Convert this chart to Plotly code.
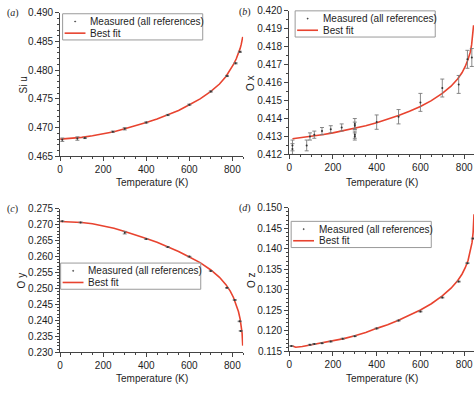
import plotly.graph_objects as go

# ---------------- data ----------------
# (a) Si u
a_T = [10, 80, 115, 245, 300, 400, 500, 600, 700, 775, 815, 835]
a_val = [0.4679, 0.4681, 0.4682, 0.4693, 0.4698, 0.4709, 0.4722, 0.4740, 0.4763, 0.4790, 0.4812, 0.4832]
a_err = [0.0003, 0.0003, 0.0001, 0.0001, 0.0002, 0.0001, 0.0001, 0.0001, 0.0001, 0.0001, 0.0001, 0.0001]
a_fit_T = [0, 50, 100, 150, 200, 250, 300, 350, 400, 450, 500, 550, 600, 650, 700, 740, 770, 790, 805, 818, 828, 836, 841, 845, 848]
a_fit = [0.4680, 0.4681, 0.4683, 0.4686, 0.4689, 0.4693, 0.4698, 0.4703, 0.4709, 0.4715, 0.4722, 0.4730, 0.4740, 0.4750,
         0.4763, 0.4776, 0.4789, 0.4800, 0.4810, 0.4820, 0.4829, 0.4838, 0.4845, 0.4852, 0.4858]

# (b) O x
b_T = [15, 15, 80, 95, 115, 150, 190, 240, 300, 300, 300, 300, 400, 500, 600, 700, 775, 815, 835]
b_val = [0.4125, 0.4123, 0.4125, 0.4130, 0.4131, 0.4133, 0.4134, 0.4135, 0.4137, 0.4136, 0.4131, 0.4130,
         0.4138, 0.4141, 0.4149, 0.4157, 0.4159, 0.4173, 0.4174]
b_err = [0.0003, 0.0003, 0.0003, 0.0002, 0.0002, 0.0002, 0.0002, 0.0002, 0.0003, 0.0002, 0.0002, 0.0002,
         0.0004, 0.0004, 0.0005, 0.0005, 0.0005, 0.0005, 0.0005]
b_fit_T = [15, 50, 100, 150, 200, 250, 300, 350, 400, 450, 500, 550, 600, 650, 700, 740, 770, 790, 805, 818, 828, 834, 838, 841, 843]
b_fit = [0.41287, 0.41292, 0.41300, 0.41310, 0.41320, 0.41332, 0.41345, 0.41360, 0.41377, 0.41395, 0.41417, 0.41440,
         0.41467, 0.41500, 0.41540, 0.41580, 0.41620, 0.41655, 0.41690, 0.41730, 0.41770, 0.41810, 0.41850, 0.41890, 0.41920]

# (c) O y
c_T = [10, 95, 300, 400, 500, 600, 700, 775, 811, 834, 839]
c_val = [0.2711, 0.2707, 0.2675, 0.2655, 0.2630, 0.2600, 0.2555, 0.2502, 0.2464, 0.2397, 0.2367]
c_err = [0.0001, 0.0001, 0.0004, 0.0001, 0.0001, 0.0001, 0.0001, 0.0001, 0.0001, 0.0001, 0.0001]
c_fit_T = [0, 50, 100, 150, 200, 250, 300, 350, 400, 450, 500, 550, 600, 650, 700, 740, 770, 790, 805, 818, 828, 836, 841, 845, 848]
c_fit = [0.2710, 0.2709, 0.2707, 0.2703, 0.2697, 0.2689, 0.2679, 0.2669, 0.2657, 0.2645, 0.2631, 0.2616, 0.2599,
         0.2581, 0.2558, 0.2535, 0.2512, 0.2492, 0.2472, 0.2450, 0.2428, 0.2404, 0.2383, 0.2360, 0.2321]

# (d) O z
d_T = [10, 95, 115, 150, 190, 245, 300, 400, 500, 600, 700, 775, 815, 840]
d_val = [0.1163, 0.1166, 0.1168, 0.1170, 0.1174, 0.1181, 0.1187, 0.1206, 0.1225, 0.1247, 0.1281, 0.1320, 0.1365, 0.1425]
d_err = [0.0001] * len(d_T)
d_fit_T = [15, 30, 60, 100, 150, 200, 250, 300, 350, 400, 450, 500, 550, 600, 650, 700, 740, 770, 790, 805, 818, 828, 836, 841, 845]
d_fit = [0.1163, 0.1160, 0.1162, 0.1166, 0.1170, 0.1175, 0.1181, 0.1188, 0.1196, 0.1206, 0.1215, 0.1226, 0.1238, 0.1251,
         0.1266, 0.1285, 0.1304, 0.1322, 0.1338, 0.1354, 0.1372, 0.1392, 0.1415, 0.1440, 0.1484]

panels = [
    ("(<i>a</i>)", "Si u", a_T, a_val, a_err, a_fit_T, a_fit, [0.465, 0.490], 0.005),
    ("(<i>b</i>)", "O x", b_T, b_val, b_err, b_fit_T, b_fit, [0.412, 0.420], 0.001),
    ("(<i>c</i>)", "O y", c_T, c_val, c_err, c_fit_T, c_fit, [0.230, 0.275], 0.005),
    ("(<i>d</i>)", "O z", d_T, d_val, d_err, d_fit_T, d_fit, [0.115, 0.150], 0.005),
]
x_title = "Temperature (K)"
legend_labels = ["Measured (all references)", "Best fit"]

# ---------------- layout geometry (pixels) ----------------
W, H = 474, 401
boxes = [
    (57.5, 241.7, 7, 155, [0, 850]),
    (288, 474, 5, 153, [0, 845]),
    (57.5, 241.7, 209, 357, [0, 850]),
    (288, 474, 208, 356, [0, 845]),
]
legend_boxes = [(60, 8), (294, 5), (58, 265), (290, 222)]
panel_label_pos = [(10, 7), (244, 6), (10, 209), (244, 208)]
ytitle_x = [21, 249, 19, 250]
xtitle_y = [182, 182, 384, 384]

FIT = "#e8432f"
AX = "#444444"
TXT = "#1e1e1e"
FONT = "Liberation Sans, Arial, sans-serif"


def px(x):
    return x / W


def py(y):
    return 1 - y / H


def note(text, x, y, xanchor="center", size=10, family=FONT, angle=0):
    return dict(text=text, x=px(x), y=py(y), xref="paper", yref="paper", showarrow=False,
                xanchor=xanchor, yanchor="middle", textangle=angle,
                font=dict(family=family, size=size, color=TXT))


fig = go.Figure()
shapes = []
annotations = []

for i, (lab, ytitle, T, v, e, fT, fv, yr, ydt) in enumerate(panels):
    sfx = "" if i == 0 else str(i + 1)
    xa, ya = "x" + sfx, "y" + sfx
    L, R, Tp, B, xr = boxes[i]

    fig.add_trace(go.Scatter(
        x=fT, y=fv, mode="lines", line=dict(color=FIT, width=1.6),
        xaxis=xa, yaxis=ya, showlegend=False, hoverinfo="skip"))
    fig.add_trace(go.Scatter(
        x=T, y=v, mode="markers",
        marker=dict(color="#333333", size=2),
        error_y=dict(type="data", array=e, visible=True, color="#7a7a7a", thickness=0.9, width=2),
        xaxis=xa, yaxis=ya, showlegend=False))

    axis_common = dict(
        showline=True, linecolor=AX, linewidth=1, ticks="outside", ticklen=4, tickwidth=1,
        tickcolor=AX, showgrid=False, zeroline=False, mirror=False,
        tickfont=dict(family=FONT, size=10, color=TXT),
    )
    fig.layout["xaxis" + sfx] = dict(
        axis_common, domain=[px(L), px(R)], range=xr, dtick=200, tick0=0,
        anchor=ya, minor=dict(ticks="outside", dtick=50, ticklen=2, tickcolor=AX))
    fig.layout["yaxis" + sfx] = dict(
        axis_common, domain=[py(B), py(Tp)], range=yr, dtick=ydt, tick0=yr[0],
        tickformat=".3f", anchor=xa,
        minor=dict(ticks="outside", dtick=ydt / 5 if ydt > 0.002 else ydt / 2, ticklen=2, tickcolor=AX))

    lx, ly = panel_label_pos[i]
    annotations.append(note(lab, lx, ly, family="Liberation Serif, serif", size=10))
    annotations.append(note(ytitle, ytitle_x[i], (Tp + B) / 2, angle=-90))
    annotations.append(note(x_title, (L + R) / 2, xtitle_y[i]))

    # legend box
    bx, by = legend_boxes[i]
    shapes.append(dict(type="rect", xref="paper", yref="paper", x0=px(bx), x1=px(bx + 141),
                       y0=py(by + 27), y1=py(by), line=dict(color="#9a9a9a", width=1), fillcolor="white"))
    shapes.append(dict(type="circle", xref="paper", yref="paper", x0=px(bx + 12), x1=px(bx + 13.2),
                       y0=py(by + 8.6), y1=py(by + 7.4), line=dict(color="#333", width=0.5), fillcolor="#333"))
    shapes.append(dict(type="line", xref="paper", yref="paper", x0=px(bx + 2), x1=px(bx + 23),
                       y0=py(by + 20), y1=py(by + 20), line=dict(color=FIT, width=1.6)))
    annotations.append(note(legend_labels[0], bx + 26, by + 8, xanchor="left"))
    annotations.append(note(legend_labels[1], bx + 26, by + 20, xanchor="left"))

fig.update_layout(
    width=W, height=H, margin=dict(l=0, r=0, t=0, b=0),
    paper_bgcolor="white", plot_bgcolor="white",
    shapes=shapes, annotations=annotations, showlegend=False,
    font=dict(family=FONT, size=10, color=TXT),
)

fig.write_html("out.html")
